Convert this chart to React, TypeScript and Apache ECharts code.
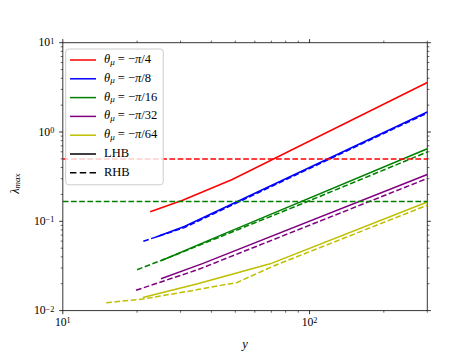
import React, { useEffect, useRef } from "react";
import * as echarts from "echarts";

const F = "'Liberation Serif', 'DejaVu Serif', serif";

const xRange = [10, 300];
const yRange = [0.01, 10];

const xMajorTicks = [10, 100];
const xMinorTicks = [20, 30, 40, 50, 60, 70, 80, 90, 200, 300];
const yMajorTicks = [0.01, 0.1, 1, 10];
const yMinorTicks = [
  0.02, 0.03, 0.04, 0.05, 0.06, 0.07, 0.08, 0.09,
  0.2, 0.3, 0.4, 0.5, 0.6, 0.7, 0.8, 0.9,
  2, 3, 4, 5, 6, 7, 8, 9,
];

const thetaLabels = ["−π/4", "−π/8", "−π/16", "−π/32", "−π/64"];
const colors = ["#ff0000", "#0000ff", "#008000", "#800080", "#bfbf00"];

// LHB (solid) curves
const redSolidX = [22.6, 30.6, 48.6, 300];
const redSolidY = [0.128, 0.172, 0.294, 3.58];
const blueSolidX = [23.9, 31.1, 300];
const blueSolidY = [0.0667, 0.0875, 1.675];
const greenSolidX = [25.0, 44.3, 300];
const greenSolidY = [0.0361, 0.0709, 0.65];
const purpleSolidX = [25.0, 36.8, 300];
const purpleSolidY = [0.0227, 0.0336, 0.334];
const yellowSolidX = [21.1, 35.2, 69.2, 300];
const yellowSolidY = [0.014, 0.02, 0.0334, 0.1645];

// RHB (dashed) curves
const blueDashX = [21.2, 31.1, 93.1, 300];
const blueDashY = [0.0598, 0.085, 0.356, 1.63];
const greenDashX = [20.0, 27.9, 93.1, 300];
const greenDashY = [0.0287, 0.0409, 0.157, 0.598];
const purpleDashX = [19.8, 35.2, 300];
const purpleDashY = [0.0169, 0.0287, 0.302];
const yellowDashX = [15.0, 21.1, 35.2, 50.9, 71.8, 300];
const yellowDashY = [0.01225, 0.01345, 0.01718, 0.02066, 0.0318, 0.1514];

// horizontal RHB levels
const redLevel = 0.5;
const greenLevel = 0.1667;

const solidX = [redSolidX, blueSolidX, greenSolidX, purpleSolidX, yellowSolidX];
const solidY = [redSolidY, blueSolidY, greenSolidY, purpleSolidY, yellowSolidY];
const dashX = [blueDashX, greenDashX, purpleDashX, yellowDashX];
const dashY = [blueDashY, greenDashY, purpleDashY, yellowDashY];
const dashColors = [colors[1], colors[2], colors[3], colors[4]];

const zip = (xs: number[], ys: number[]) => xs.map((x, i) => [x, ys[i]]);
const DASH = [5.7, 2.5];
const SOLID_ICON = "rect";
const DASH_ICON =
  "path://M0,0h6.4v1.5h-6.4zM9.8,0h6.4v1.5h-6.4zM19.6,0h6.4v1.5h-6.4z";

const supNames: Record<number, string> = { [-2]: "−2", [-1]: "−1", 0: "0", 1: "1", 2: "2" };

export default function App() {
  const ref = useRef<HTMLDivElement>(null);
  useEffect(() => {
    const chart = echarts.init(ref.current!, null, { renderer: "svg" });

    const tickItems: number[][] = [];
    const MAJ = 3.6, MIN = 2.1;
    xMajorTicks.forEach((v) => {
      tickItems.push([v, yRange[0], 0, 1, MAJ, 0.8]);
      tickItems.push([v, yRange[1], 0, -1, MAJ, 0.8]);
    });
    xMinorTicks.forEach((v) => {
      tickItems.push([v, yRange[0], 0, 1, MIN, 0.6]);
      tickItems.push([v, yRange[1], 0, -1, MIN, 0.6]);
    });
    yMajorTicks.forEach((v) => {
      tickItems.push([xRange[0], v, -1, 0, MAJ, 0.8]);
      tickItems.push([xRange[1], v, 1, 0, MAJ, 0.8]);
    });
    yMinorTicks.forEach((v) => {
      tickItems.push([xRange[0], v, -1, 0, MIN, 0.6]);
      tickItems.push([xRange[1], v, 1, 0, MIN, 0.6]);
    });

    const seriesNames = thetaLabels.map((t) => `θμ = ${t}`);

    const labelFmt = (v: number) => {
      const p = Math.round(Math.log10(v));
      if (Math.abs(Math.pow(10, p) - v) / v > 1e-6) return "";
      if (supNames[p] === undefined) return "";
      return `{b|10}{s|${supNames[p]}}`;
    };
    const tickRich = {
      b: { fontFamily: F, fontSize: 11.7, lineHeight: 11, padding: [4, 0, 4, 0], color: "#000" },
      s: { fontFamily: F, fontSize: 8.2, lineHeight: 8, verticalAlign: "top", color: "#000" },
    };

    const series: any[] = [];
    solidX.forEach((xs, i) => {
      series.push({
        name: seriesNames[i],
        type: "line",
        data: zip(xs, solidY[i]),
        symbol: "none",
        color: colors[i],
        lineStyle: { width: 1.5, color: colors[i] },
      });
    });
    dashX.forEach((xs, i) => {
      series.push({
        name: `RHB ${i}`,
        type: "line",
        data: zip(xs, dashY[i]),
        symbol: "none",
        color: dashColors[i],
        lineStyle: { width: 1.5, color: dashColors[i], type: DASH },
      });
    });
    series.push({
      name: "RHB red level",
      type: "line",
      data: [[xRange[0], redLevel], [xRange[1], redLevel]],
      symbol: "none",
      color: colors[0],
      lineStyle: { width: 1.5, color: colors[0], type: DASH },
    });
    series.push({
      name: "RHB green level",
      type: "line",
      data: [[xRange[0], greenLevel], [xRange[1], greenLevel]],
      symbol: "none",
      color: colors[2],
      lineStyle: { width: 1.5, color: colors[2], type: DASH },
    });
    series.push({
      name: "LHB",
      type: "line",
      data: [],
      symbol: "none",
      color: "#000",
      lineStyle: { width: 1.5, color: "#000" },
    });
    series.push({
      name: "RHB",
      type: "line",
      data: [],
      symbol: "none",
      color: "#000",
      lineStyle: { width: 1.5, color: "#000", type: DASH },
    });
    series.push({
      name: "ticks",
      type: "custom",
      silent: true,
      clip: false,
      encode: { x: 0, y: 1 },
      data: tickItems,
      renderItem: (_p: any, api: any) => {
        const pt = api.coord([api.value(0), api.value(1)]);
        const dx = api.value(2), dy = api.value(3), len = api.value(4), w = api.value(5);
        return {
          type: "line",
          shape: { x1: pt[0], y1: pt[1], x2: pt[0] + dx * len, y2: pt[1] + dy * len },
          style: { stroke: "#000", lineWidth: w },
        };
      },
    });

    const legendData = [
      ...seriesNames.map((n, i) => ({ name: n, icon: SOLID_ICON, itemStyle: { color: colors[i] } })),
      { name: "LHB", icon: SOLID_ICON, itemStyle: { color: "#000" } },
      { name: "RHB", icon: DASH_ICON, itemStyle: { color: "#000" } },
    ];

    chart.setOption({
      animation: false,
      grid: {
        left: 59.5,
        right: 46.7,
        top: 42.7,
        bottom: 39.3,
        show: true,
        borderColor: "#000",
        borderWidth: 0.8,
        backgroundColor: "transparent",
      },
      legend: {
        data: legendData,
        orient: "vertical",
        left: 65.7,
        top: 49,
        itemWidth: 26,
        itemHeight: 1.5,
        itemGap: 3.8,
        padding: [3.5, 6, 4.5, 4.3],
        backgroundColor: "rgba(255,255,255,0.8)",
        borderColor: "#cccccc",
        borderWidth: 1,
        borderRadius: 3,
        selectedMode: false,
        formatter: (name: string) => {
          if (name === "LHB" || name === "RHB") return `{n0|${name}}`;
          const frac = name.split("/")[1];
          return `{i0|θ}{s|μ}{n| = −}{i|π}{n|/${frac}}`;
        },
        textStyle: {
          fontFamily: F,
          fontSize: 12.5,
          color: "#000",
          rich: {
            i0: { fontFamily: F, fontStyle: "italic", fontSize: 12.5, lineHeight: 12, padding: [0, 0, 2, 3], color: "#000" },
            i: { fontFamily: F, fontStyle: "italic", fontSize: 12.5, lineHeight: 12, padding: [0, 0, 2, 0], color: "#000" },
            s: { fontFamily: F, fontStyle: "italic", fontSize: 9, lineHeight: 9, verticalAlign: "bottom", color: "#000" },
            n: { fontFamily: F, fontSize: 12.5, lineHeight: 12, padding: [0, 0, 2, 0], color: "#000" },
            n0: { fontFamily: F, fontSize: 12.5, lineHeight: 12, padding: [0, 0, 2, 3], color: "#000" },
          },
        },
      },
      xAxis: {
        type: "log",
        logBase: 10,
        min: xRange[0],
        max: xRange[1],
        name: "y",
        nameLocation: "middle",
        nameGap: 26,
        nameTextStyle: { fontFamily: F, fontStyle: "italic", fontSize: 12.5, color: "#000" },
        axisLine: { show: false },
        axisTick: { show: false },
        splitLine: { show: false },
        minorTick: { show: false },
        axisLabel: { margin: 6, formatter: labelFmt, rich: tickRich, showMinLabel: true, showMaxLabel: true },
      },
      yAxis: {
        type: "log",
        logBase: 10,
        min: yRange[0],
        max: yRange[1],
        name: "{l|λ}{s|max}",
        nameLocation: "middle",
        nameRotate: 90,
        nameGap: 38,
        nameTextStyle: {
          rich: {
            l: { fontFamily: F, fontStyle: "italic", fontSize: 12.5, lineHeight: 12, padding: [0, 0, 2, 0], color: "#000" },
            s: { fontFamily: F, fontStyle: "italic", fontSize: 9, lineHeight: 9, verticalAlign: "bottom", padding: [0, 14, 0, 0], color: "#000" },
          },
        },
        axisLine: { show: false },
        axisTick: { show: false },
        splitLine: { show: false },
        minorTick: { show: false },
        axisLabel: { margin: 8.5, formatter: labelFmt, rich: tickRich },
      },
      series,
    });
    return () => chart.dispose();
  }, []);
  return (
    <div
      ref={ref}
      style={{ position: "fixed", left: 0, top: 0, width: 474, height: 355, background: "#fff" }}
    />
  );
}
